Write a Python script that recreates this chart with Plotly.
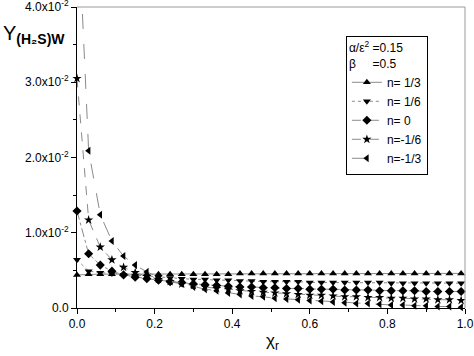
import plotly.graph_objects as go

x_vals = [0.00, 0.03, 0.06, 0.09, 0.12, 0.15, 0.18, 0.21, 0.24, 0.27, 0.30, 0.33,
          0.36, 0.39, 0.42, 0.45, 0.48, 0.51, 0.54, 0.57, 0.60, 0.63, 0.66, 0.69,
          0.72, 0.75, 0.78, 0.81, 0.84, 0.87, 0.90, 0.93, 0.96, 0.99]

y_n_1_3 = [0.0044, 0.0045, 0.0045, 0.0045, 0.0045, 0.0045, 0.0045, 0.0045, 0.0045,
           0.0045, 0.0045, 0.0045, 0.0045, 0.0045, 0.0046, 0.0046, 0.0046, 0.0046,
           0.0046, 0.0046, 0.0046, 0.0046, 0.0046, 0.0046, 0.0046, 0.0046, 0.0046,
           0.0046, 0.0046, 0.0046, 0.0046, 0.0046, 0.0046, 0.0046]
y_n_1_6 = [0.0064, 0.0049, 0.0047, 0.0046, 0.0044, 0.0043, 0.0042, 0.0041, 0.0040,
           0.0039, 0.0038, 0.0038, 0.0037, 0.0037, 0.0036, 0.0036, 0.0035, 0.0035,
           0.0035, 0.0035, 0.0034, 0.0034, 0.0034, 0.0034, 0.0034, 0.0034, 0.0034,
           0.0033, 0.0033, 0.0033, 0.0033, 0.0033, 0.0033, 0.0033]
y_n_0 = [0.0129, 0.0072, 0.0057, 0.0049, 0.0044, 0.0041, 0.0039, 0.0037, 0.0035,
         0.0034, 0.0032, 0.0031, 0.0030, 0.0029, 0.0028, 0.0028, 0.0027, 0.0027,
         0.0026, 0.0026, 0.0025, 0.0025, 0.0025, 0.0024, 0.0024, 0.0024, 0.0023,
         0.0023, 0.0023, 0.0023, 0.0022, 0.0022, 0.0022, 0.0022]
y_n_m1_6 = [0.0305, 0.0117, 0.0081, 0.0064, 0.0054, 0.0047, 0.0042, 0.0038, 0.0035,
            0.0032, 0.0030, 0.0028, 0.0026, 0.0025, 0.0023, 0.0022, 0.0021, 0.0020,
            0.0019, 0.0018, 0.0017, 0.0017, 0.0016, 0.0015, 0.0015, 0.0014, 0.0014,
            0.0013, 0.0013, 0.0012, 0.0012, 0.0011, 0.0011, 0.0010]
y_n_m1_3 = [0.0550, 0.0209, 0.0124, 0.0089, 0.0069, 0.0057, 0.0048, 0.0041, 0.0036,
            0.0032, 0.0028, 0.0025, 0.0023, 0.0020, 0.0018, 0.0016, 0.0015, 0.0013,
            0.0012, 0.0011, 0.0010, 0.0009, 0.0008, 0.0007, 0.0006, 0.0006, 0.0005,
            0.0004, 0.0004, 0.0003, 0.0003, 0.0002, 0.0002, 0.0001]

series_names = ["n= 1/3", "n= 1/6", "n= 0", "n=-1/6", "n=-1/3"]
series_values = [y_n_1_3, y_n_1_6, y_n_0, y_n_m1_6, y_n_m1_3]
series_symbols = ["triangle-up", "triangle-down", "diamond", "star", "triangle-left"]
series_dash = ["solid", "dot", "dashdot", "dash", "longdash"]

y_tickvals = [0, 0.01, 0.02, 0.03, 0.04]
y_ticktext = ["0.0", "1.0x10<sup>-2</sup>", "2.0x10<sup>-2</sup>",
              "3.0x10<sup>-2</sup>", "4.0x10<sup>-2</sup>"]
x_tickvals = [0, 0.2, 0.4, 0.6, 0.8, 1.0]
x_ticktext = ["0.0", "0.2", "0.4", "0.6", "0.8", "1.0"]

fig = go.Figure()
for name, vals, sym, dash in zip(series_names, series_values, series_symbols, series_dash):
    fig.add_trace(go.Scatter(
        x=x_vals, y=vals, name=name, mode="lines+markers",
        line=dict(color="#8a8a8a", width=1, dash=dash),
        marker=dict(symbol=sym, size=7, color="black", line=dict(width=0)),
        cliponaxis=False,
    ))

fig.update_layout(
    width=474, height=356,
    margin=dict(l=77, r=9, t=7, b=48, autoexpand=False),
    paper_bgcolor="white", plot_bgcolor="white",
    font=dict(family="Arial", size=12, color="black"),
    showlegend=True,
    legend=dict(
        x=0.693, y=0.905, xanchor="left", yanchor="top",
        bordercolor="black", borderwidth=1, bgcolor="white",
        font=dict(size=12),
        title=dict(text="α/ε<sup>2</sup> =0.15<br>β\u00a0\u00a0\u00a0\u00a0\u00a0=0.5", font=dict(size=12)),
        itemwidth=30, tracegroupgap=0,
    ),
    xaxis=dict(
        range=[0, 1], tickvals=x_tickvals, ticktext=x_ticktext, automargin=False,
        showgrid=False, zeroline=False, showline=True, linecolor="black", linewidth=1,
        ticks="outside", ticklen=5, tickcolor="black", ticklabeloverflow="allow",
        minor=dict(ticks="outside", ticklen=3, dtick=0.1, tickcolor="black"),
    ),
    yaxis=dict(
        range=[0, 0.04], tickvals=y_tickvals, ticktext=y_ticktext, automargin=False,
        showgrid=False, zeroline=False, showline=True, linecolor="black", linewidth=1,
        ticks="outside", ticklen=5, tickcolor="black", ticklabeloverflow="allow",
        minor=dict(ticks="outside", ticklen=3, dtick=0.005, tickcolor="black"),
    ),
    shapes=[
        dict(type="line", xref="paper", yref="paper", x0=0, x1=1, y0=1, y1=1,
             line=dict(color="#9a9a9a", width=1)),
        dict(type="line", xref="paper", yref="paper", x0=1, x1=1, y0=0, y1=1,
             line=dict(color="#9a9a9a", width=1)),
    ],
    annotations=[
        dict(text="Y<sub><b>(H₂S)W</b></sub>", xref="paper", yref="paper",
             x=-0.195, y=0.91, xanchor="left", yanchor="middle",
             showarrow=False, font=dict(size=20, family="Arial")),
        dict(text="χ<sub>r</sub>", xref="paper", yref="paper",
             x=0.505, y=-0.112, xanchor="center", yanchor="middle",
             showarrow=False, font=dict(size=17, family="Arial")),
    ],
)

fig.write_html("out.html", config={"displayModeBar": False},
               post_script="document.body.style.margin='0';document.body.style.overflow='hidden';")
